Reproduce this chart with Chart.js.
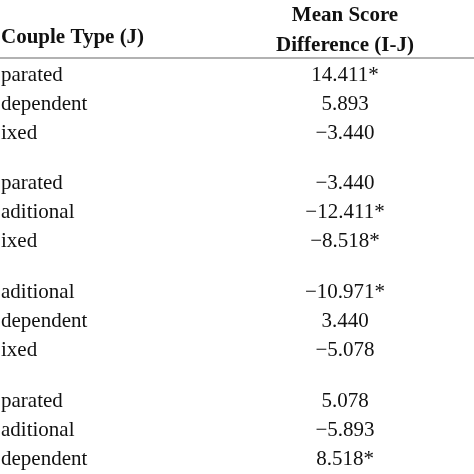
<!DOCTYPE html>
<html lang="en">
<head>
  <meta charset="UTF-8" />
  <title>Mean Score Difference</title>
  <script src="https://cdn.jsdelivr.net/npm/chart.js"></script>
  <style>
    body { margin: 0; background: #ffffff; }
    #wrap { width: 474px; height: 474px; }
  </style>
</head>
<body>
<div id="wrap"><canvas id="tbl"></canvas></div>
<script>
// Table content (left column is cut off in the original)
const headerLeft = 'Couple Type (J)';
const headerRight = ['Mean Score', 'Difference (I-J)'];
const groups = [
  ['parated', 'dependent', 'ixed'],
  ['parated', 'aditional', 'ixed'],
  ['aditional', 'dependent', 'ixed'],
  ['parated', 'aditional', 'dependent']
];
const diffs = [
  ['14.411*', '5.893', '\u22123.440'],
  ['\u22123.440', '\u221212.411*', '\u22128.518*'],
  ['\u221210.971*', '3.440', '\u22125.078'],
  ['5.078', '\u22125.893', '8.518*']
];

// row position: group index * 3.75 + item index
const cells = [];
groups.forEach((g, gi) => g.forEach((name, k) => {
  cells.push({ x: 345, y: gi * 3.75 + k, name: name, diff: diffs[gi][k] });
}));

const textPlugin = {
  id: 'tableText',
  afterDraw(chart) {
    const c = chart.ctx, xs = chart.scales.x, ys = chart.scales.y;
    c.save();
    c.fillStyle = '#111';
    c.textBaseline = 'middle';
    c.font = 'bold 21px "Liberation Serif"';
    c.textAlign = 'left';
    c.fillText(headerLeft, 1, ys.getPixelForValue(-1.3));
    c.textAlign = 'center';
    c.fillText(headerRight[0], xs.getPixelForValue(345), ys.getPixelForValue(-2.05));
    c.fillText(headerRight[1], xs.getPixelForValue(345), ys.getPixelForValue(-1.02));
    c.strokeStyle = '#999';
    c.lineWidth = 1.5;
    const ly = ys.getPixelForValue(-0.59);
    c.beginPath(); c.moveTo(0, ly); c.lineTo(474, ly); c.stroke();
    c.font = '21px "Liberation Serif"';
    cells.forEach(p => {
      const py = ys.getPixelForValue(p.y);
      c.textAlign = 'left';
      c.fillText(p.name, 1, py);
      c.textAlign = 'center';
      c.fillText(p.diff, xs.getPixelForValue(p.x), py);
    });
    c.restore();
  }
};

new Chart(document.getElementById('tbl'), {
  type: 'scatter',
  data: { datasets: [{ data: cells, pointRadius: 0 }] },
  options: {
    responsive: true,
    maintainAspectRatio: false,
    animation: false,
    layout: { padding: 0 },
    plugins: { legend: { display: false }, tooltip: { enabled: false } },
    scales: {
      x: { display: false, min: 0, max: 474 },
      y: { display: false, reverse: true, min: -75 / 29, max: (474 - 75) / 29 }
    }
  },
  plugins: [textPlugin]
});
</script>
</body>
</html>
